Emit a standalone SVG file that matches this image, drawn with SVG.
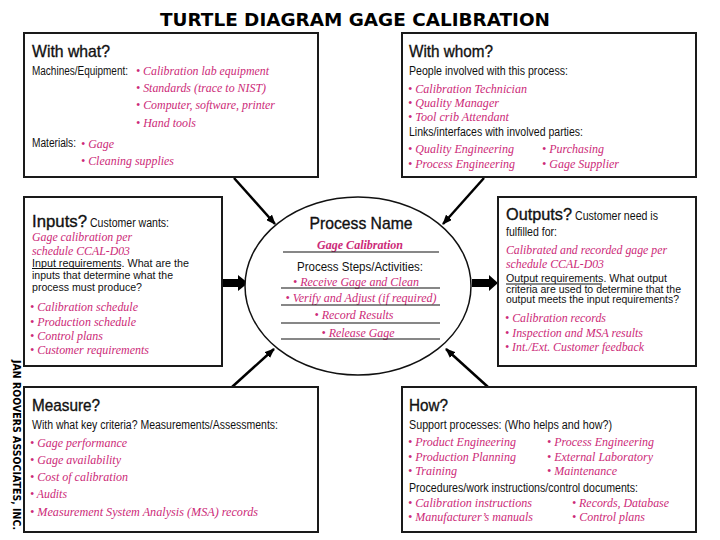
<svg xmlns="http://www.w3.org/2000/svg" width="720" height="540" viewBox="0 0 720 540">
<defs>
<marker id="ah" markerWidth="10" markerHeight="8" refX="9" refY="4" orient="auto" markerUnits="userSpaceOnUse">
<path d="M0,0 L10,4 L0,8 Z" fill="#000"/>
</marker>
</defs>
<style>
.box{fill:#fff;stroke:#1a1a1a;stroke-width:2}
.h{font-family:"Liberation Sans",Arial,sans-serif;font-size:17px;fill:#111;stroke:#111;stroke-width:0.35}
.b{font-family:"Liberation Sans",Arial,sans-serif;font-size:12px;fill:#111}
.t{font-family:"Liberation Sans",Arial,sans-serif;font-size:10px;fill:#111}
.p{font-family:"Liberation Serif","Times New Roman",serif;font-style:italic;font-size:12.5px;fill:#cc2a78}
.pb{font-family:"Liberation Serif","Times New Roman",serif;font-style:italic;font-weight:bold;font-size:12.5px;fill:#cc2a78}
.ln{stroke:#111;stroke-width:1.2}
.con{stroke:#000;stroke-width:2.5;fill:none}
</style>
<rect width="720" height="540" fill="#fff"/>
<text x="355" y="26" text-anchor="middle" font-family="DejaVu Sans,Verdana,sans-serif" font-weight="bold" font-size="18" textLength="390" lengthAdjust="spacingAndGlyphs" fill="#000">TURTLE DIAGRAM GAGE CALIBRATION</text>
<text transform="translate(13,360) rotate(90)" font-family="DejaVu Sans,Verdana,sans-serif" font-weight="bold" font-size="10" textLength="170" lengthAdjust="spacingAndGlyphs" fill="#000">JAN ROOVERS ASSOCIATES, INC.</text>

<g id="connectors">
<line class="con" x1="234" y1="178" x2="275" y2="224" marker-end="url(#ah)"/>
<line class="con" x1="484" y1="178" x2="443" y2="224" marker-end="url(#ah)"/>
<line class="con" x1="232" y1="387" x2="274" y2="349" marker-end="url(#ah)"/>
<line class="con" x1="488" y1="387" x2="446" y2="349" marker-end="url(#ah)"/>
<path d="M222,279 L238,279 L238,275 L248,283 L238,291 L238,287 L222,287 Z" fill="#000"/>
<path d="M472,279 L489,279 L489,275 L498,283 L489,291 L489,287 L472,287 Z" fill="#000"/>
</g>

<g id="with-what">
<rect class="box" x="24" y="33" width="294" height="144"/>
<text class="h" x="32" y="57" textLength="78" lengthAdjust="spacingAndGlyphs">With what?</text>
<text class="b" x="32" y="75" textLength="96" lengthAdjust="spacingAndGlyphs">Machines/Equipment:</text>
<text class="p" x="136" y="75" textLength="133" lengthAdjust="spacingAndGlyphs">• Calibration lab equipment</text>
<text class="p" x="136" y="92" textLength="130" lengthAdjust="spacingAndGlyphs">• Standards (trace to NIST)</text>
<text class="p" x="136" y="109" textLength="139" lengthAdjust="spacingAndGlyphs">• Computer, software, printer</text>
<text class="p" x="136" y="127" textLength="60" lengthAdjust="spacingAndGlyphs">• Hand tools</text>
<text class="b" x="32" y="147" textLength="44" lengthAdjust="spacingAndGlyphs">Materials:</text>
<text class="p" x="81" y="148" textLength="33" lengthAdjust="spacingAndGlyphs">• Gage</text>
<text class="p" x="81" y="165" textLength="93" lengthAdjust="spacingAndGlyphs">• Cleaning supplies</text>
</g>

<g id="with-whom">
<rect class="box" x="402" y="33" width="294" height="144"/>
<text class="h" x="409" y="57" textLength="84" lengthAdjust="spacingAndGlyphs">With whom?</text>
<text class="b" x="409" y="75" textLength="159" lengthAdjust="spacingAndGlyphs">People involved with this process:</text>
<text class="p" x="408" y="93" textLength="119" lengthAdjust="spacingAndGlyphs">• Calibration Technician</text>
<text class="p" x="408" y="107" textLength="91" lengthAdjust="spacingAndGlyphs">• Quality Manager</text>
<text class="p" x="408" y="121" textLength="101" lengthAdjust="spacingAndGlyphs">• Tool crib Attendant</text>
<text class="b" x="409" y="136" textLength="174" lengthAdjust="spacingAndGlyphs">Links/interfaces with involved parties:</text>
<text class="p" x="408" y="153" textLength="106" lengthAdjust="spacingAndGlyphs">• Quality Engineering</text>
<text class="p" x="408" y="168" textLength="107" lengthAdjust="spacingAndGlyphs">• Process Engineering</text>
<text class="p" x="542" y="153" textLength="62" lengthAdjust="spacingAndGlyphs">• Purchasing</text>
<text class="p" x="542" y="168" textLength="77" lengthAdjust="spacingAndGlyphs">• Gage Supplier</text>
</g>

<g id="inputs">
<rect class="box" x="24" y="197" width="198" height="169"/>
<text class="h" x="32" y="227" font-size="18" textLength="55" lengthAdjust="spacingAndGlyphs">Inputs?</text>
<text class="b" x="90" y="227" font-size="12.5" textLength="79" lengthAdjust="spacingAndGlyphs">Customer wants:</text>
<text class="p" x="32" y="241" textLength="100" lengthAdjust="spacingAndGlyphs">Gage calibration per</text>
<text class="p" x="32" y="255" textLength="98" lengthAdjust="spacingAndGlyphs">schedule CCAL-D03</text>
<text class="t" x="32" y="266.5" font-size="11.5" textLength="157" lengthAdjust="spacingAndGlyphs">Input requirements.  What are the</text>
<line class="ln" x1="32" y1="268.5" x2="121" y2="268.5"/>
<text class="t" x="32" y="278.5" font-size="11.5" textLength="141" lengthAdjust="spacingAndGlyphs">inputs that determine what the</text>
<text class="t" x="32" y="291" font-size="11.5" textLength="110" lengthAdjust="spacingAndGlyphs">process must produce?</text>
<text class="p" x="30" y="311" textLength="108" lengthAdjust="spacingAndGlyphs">• Calibration schedule</text>
<text class="p" x="30" y="326" textLength="106" lengthAdjust="spacingAndGlyphs">• Production schedule</text>
<text class="p" x="30" y="340" textLength="73" lengthAdjust="spacingAndGlyphs">• Control plans</text>
<text class="p" x="30" y="354" textLength="119" lengthAdjust="spacingAndGlyphs">• Customer requirements</text>
</g>

<g id="process">
<ellipse cx="358" cy="286" rx="113" ry="89" fill="#fff" stroke="#111" stroke-width="1.5"/>
<text class="h" x="361" y="229" text-anchor="middle" font-size="18" textLength="103" lengthAdjust="spacingAndGlyphs">Process Name</text>
<text class="pb" x="360" y="249" text-anchor="middle" textLength="86" lengthAdjust="spacingAndGlyphs">Gage Calibration</text>
<line class="ln" x1="283" y1="252" x2="439" y2="252"/>
<text class="b" x="360" y="271" text-anchor="middle" font-size="13" textLength="126" lengthAdjust="spacingAndGlyphs">Process Steps/Activities:</text>
<text class="p" x="356" y="286" text-anchor="middle" textLength="126" lengthAdjust="spacingAndGlyphs">• Receive Gage and Clean</text>
<line class="ln" x1="281" y1="288" x2="440" y2="288"/>
<text class="p" x="361" y="302" text-anchor="middle" textLength="151" lengthAdjust="spacingAndGlyphs">• Verify and Adjust (if required)</text>
<line class="ln" x1="281" y1="305" x2="440" y2="305"/>
<text class="p" x="354" y="319" text-anchor="middle" textLength="79" lengthAdjust="spacingAndGlyphs">• Record Results</text>
<line class="ln" x1="281" y1="323" x2="440" y2="323"/>
<text class="p" x="358" y="337" text-anchor="middle" textLength="73" lengthAdjust="spacingAndGlyphs">• Release Gage</text>
<line class="ln" x1="281" y1="339" x2="440" y2="339"/>
</g>

<g id="outputs">
<rect class="box" x="498" y="197" width="198" height="169"/>
<text class="h" x="506" y="220" font-size="18" textLength="66" lengthAdjust="spacingAndGlyphs">Outputs?</text>
<text class="b" x="575" y="220" font-size="12.5" textLength="83" lengthAdjust="spacingAndGlyphs">Customer need is</text>
<text class="b" x="506" y="236" textLength="51" lengthAdjust="spacingAndGlyphs">fulfilled for:</text>
<text class="p" x="506" y="254" textLength="161" lengthAdjust="spacingAndGlyphs">Calibrated and recorded gage per</text>
<text class="p" x="506" y="268" textLength="98" lengthAdjust="spacingAndGlyphs">schedule CCAL-D03</text>
<text class="t" x="506" y="282" textLength="161" lengthAdjust="spacingAndGlyphs">Output requirements.  What output</text>
<line class="ln" x1="506" y1="284" x2="602" y2="284"/>
<text class="t" x="506" y="293" textLength="175" lengthAdjust="spacingAndGlyphs">criteria are used to determine that the</text>
<text class="t" x="506" y="303" textLength="173" lengthAdjust="spacingAndGlyphs">output meets the input requirements?</text>
<text class="p" x="505" y="322" textLength="101" lengthAdjust="spacingAndGlyphs">• Calibration records</text>
<text class="p" x="505" y="337" textLength="138" lengthAdjust="spacingAndGlyphs">• Inspection and MSA results</text>
<text class="p" x="505" y="351" textLength="139" lengthAdjust="spacingAndGlyphs">• Int./Ext. Customer feedback</text>
</g>

<g id="measure">
<rect class="box" x="24" y="387" width="294" height="145"/>
<text class="h" x="32" y="411" font-size="18" textLength="68" lengthAdjust="spacingAndGlyphs">Measure?</text>
<text class="b" x="32" y="429" textLength="246" lengthAdjust="spacingAndGlyphs">With what key criteria? Measurements/Assessments:</text>
<text class="p" x="30" y="447" textLength="97" lengthAdjust="spacingAndGlyphs">• Gage performance</text>
<text class="p" x="30" y="464" textLength="91" lengthAdjust="spacingAndGlyphs">• Gage availability</text>
<text class="p" x="30" y="481" textLength="98" lengthAdjust="spacingAndGlyphs">• Cost of calibration</text>
<text class="p" x="30" y="498" textLength="37" lengthAdjust="spacingAndGlyphs">• Audits</text>
<text class="p" x="30" y="516" textLength="228" lengthAdjust="spacingAndGlyphs">• Measurement System Analysis  (MSA) records</text>
</g>

<g id="how">
<rect class="box" x="402" y="387" width="294" height="145"/>
<text class="h" x="409" y="411" font-size="18" textLength="39" lengthAdjust="spacingAndGlyphs">How?</text>
<text class="b" x="409" y="429" textLength="203" lengthAdjust="spacingAndGlyphs">Support processes:  (Who helps and how?)</text>
<text class="p" x="408" y="446" textLength="108" lengthAdjust="spacingAndGlyphs">• Product Engineering</text>
<text class="p" x="408" y="461" textLength="108" lengthAdjust="spacingAndGlyphs">• Production Planning</text>
<text class="p" x="408" y="475" textLength="49" lengthAdjust="spacingAndGlyphs">• Training</text>
<text class="p" x="547" y="446" textLength="107" lengthAdjust="spacingAndGlyphs">• Process Engineering</text>
<text class="p" x="547" y="461" textLength="106" lengthAdjust="spacingAndGlyphs">• External Laboratory</text>
<text class="p" x="547" y="475" textLength="70" lengthAdjust="spacingAndGlyphs">• Maintenance</text>
<text class="b" x="409" y="492" textLength="229" lengthAdjust="spacingAndGlyphs">Procedures/work instructions/control documents:</text>
<text class="p" x="408" y="507" textLength="124" lengthAdjust="spacingAndGlyphs">• Calibration instructions</text>
<text class="p" x="408" y="521" textLength="125" lengthAdjust="spacingAndGlyphs">• Manufacturer’s manuals</text>
<text class="p" x="572" y="507" textLength="97" lengthAdjust="spacingAndGlyphs">• Records, Database</text>
<text class="p" x="572" y="521" textLength="73" lengthAdjust="spacingAndGlyphs">• Control plans</text>
</g>
</svg>
